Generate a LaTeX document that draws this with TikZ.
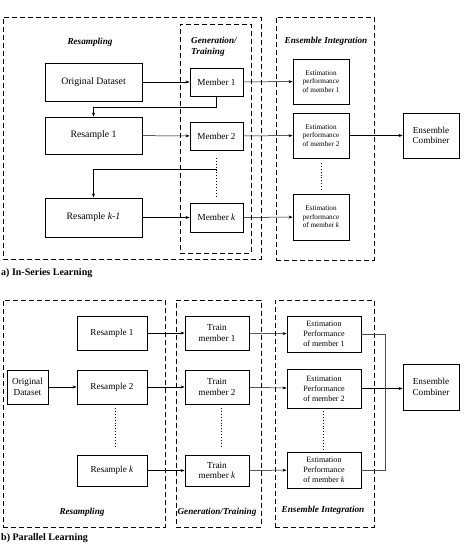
\documentclass[tikz,border=0pt]{standalone}
\usepackage{fontspec}
\setmainfont{Liberation Serif}
\usetikzlibrary{arrows.meta}
\begin{document}
\begin{tikzpicture}[x=1pt,y=-1pt,
  box/.style={draw, line width=0.9pt, inner sep=0pt, align=center},
  bigtxt/.style={font=\fontsize{9.8}{11}\selectfont},
  midtxt/.style={font=\fontsize{9.2}{10.5}\selectfont},
  smalltxt/.style={font=\fontsize{7.2}{8.5}\selectfont},
  esttxt/.style={font=\fontsize{8.1}{10}\selectfont},
  grp/.style={draw, dash pattern=on 5pt off 3pt, line width=0.6pt, inner sep=0pt},
  lbl/.style={font=\fontsize{9.2}{10.5}\selectfont\bfseries\itshape, inner sep=0pt},
  captxt/.style={font=\fontsize{10}{12}\selectfont\bfseries, inner sep=0pt, anchor=west},
  arr/.style={-{Stealth[length=4pt,width=3pt]}, line width=0.5pt},
  dots/.style={dotted, line width=0.9pt}
]
\useasboundingbox (0,0) rectangle (474,545);

% ---------------- (a) In-Series Learning ----------------
\node[grp, minimum width=258pt, minimum height=242pt] (gAres) at (132,138) {};
\node[grp, minimum width=71pt, minimum height=229pt] (gAgen) at (215.5,138.5) {};
\node[grp, minimum width=98pt, minimum height=243pt] (gAens) at (325,138.5) {};

\node[lbl] (lAres) at (90,42) {Resampling};
\node[lbl, align=left, anchor=west] (lAgen) at (191,47) {Generation/\\Training};
\node[lbl] (lAens) at (326,41) {Ensemble Integration};

\node[box, bigtxt, minimum width=97pt, minimum height=38pt] (od) at (93.5,82) {Original Dataset};
\node[box, midtxt, minimum width=53pt, minimum height=28pt] (m1) at (216.5,82) {Member 1};
\node[box, bigtxt, minimum width=97pt, minimum height=37pt] (r1) at (93.5,135.5) {Resample 1};
\node[box, midtxt, minimum width=53pt, minimum height=28pt] (m2) at (216.5,136) {Member 2};
\node[box, bigtxt, minimum width=97pt, minimum height=39pt] (rk) at (93.5,217.5) {Resample \textit{k-1}};
\node[box, midtxt, minimum width=53pt, minimum height=29pt] (mk) at (216.5,217.5) {Member \textit{k}};

\node[box, smalltxt, minimum width=56pt, minimum height=45pt] (e1) at (321,81.5) {Estimation\\performance\\of member 1};
\node[box, smalltxt, minimum width=56pt, minimum height=45pt] (e2) at (321,135.5) {Estimation\\performance\\of member 2};
\node[box, smalltxt, minimum width=56pt, minimum height=46pt] (ek) at (321,217) {Estimation\\performance\\of member \textit{k}};
\node[box, midtxt, minimum width=56pt, minimum height=45pt] (ec) at (431,135.5) {Ensemble\\Combiner};

\coordinate (dAt) at (216.5,158);
\coordinate (dAb) at (216.5,198);
\coordinate (dAbr) at (216.5,169);
\coordinate (dEt) at (321,163);
\coordinate (dEb) at (321,191);
\draw[dots] (dAt) -- (dAb);
\draw[dots] (dEt) -- (dEb);

\draw[arr] (od) -- (m1);
\draw[arr] (r1) -- (m2);
\draw[arr] (rk) -- (mk);
\draw[arr] (m1) -- (e1);
\draw[arr] (m2) -- (e2);
\draw[arr] (mk) -- (ek);
\draw[arr] (e2) -- (ec);
\draw[arr] (m1.south) -- ++(0,11) -| (r1.north);
\draw[arr] (dAbr) -| (rk.north);

\node[captxt] (capA) at (1,273) {a) In-Series Learning};

% ---------------- (b) Parallel Learning ----------------
\node[grp, minimum width=162pt, minimum height=227pt] (gBres) at (84,413.5) {};
\node[grp, minimum width=85pt, minimum height=227pt] (gBgen) at (218.5,413.5) {};
\node[grp, minimum width=99pt, minimum height=227pt] (gBens) at (324.5,413.5) {};

\node[lbl] (lBres) at (82,512) {Resampling};
\node[lbl] (lBgen) at (217,512) {Generation/Training};
\node[lbl] (lBens) at (323,510) {Ensemble Integration};

\node[box, midtxt, minimum width=41pt, minimum height=34pt] (bod) at (27.5,387) {Original\\Dataset};
\node[box, midtxt, minimum width=70pt, minimum height=34pt] (br1) at (112,333) {Resample 1};
\node[box, midtxt, minimum width=70pt, minimum height=34pt] (br2) at (112,387) {Resample 2};
\node[box, midtxt, minimum width=70pt, minimum height=31pt] (brk) at (112,470.5) {Resample \textit{k}};
\node[box, midtxt, minimum width=64pt, minimum height=34pt] (bt1) at (217,333) {Train\\member 1};
\node[box, midtxt, minimum width=64pt, minimum height=34pt] (bt2) at (217,387) {Train\\member 2};
\node[box, midtxt, minimum width=64pt, minimum height=31pt] (btk) at (217,470.5) {Train\\member \textit{k}};
\node[box, esttxt, minimum width=74pt, minimum height=36pt] (be1) at (324,334) {Estimation\\Performance\\of member  1};
\node[box, esttxt, minimum width=74pt, minimum height=39pt] (be2) at (324,388.5) {Estimation\\Performance\\of member  2};
\node[box, esttxt, minimum width=74pt, minimum height=36pt] (bek) at (324,470) {Estimation\\Performance\\of member  \textit{k}};
\node[box, midtxt, minimum width=56pt, minimum height=46pt] (bec) at (431,387) {Ensemble\\Combiner};

\draw[dots] (115,408) -- (115,448);
\draw[dots] (221,408) -- (221,448);
\draw[dots] (323,411) -- (323,449);

\draw[arr] (bod) -- (br2);
\draw[arr] (br1) -- (bt1);
\draw[arr] (br2) -- (bt2);
\draw[arr] (brk) -- (btk);
\draw[arr] (bt1) -- (be1);
\draw[arr] (bt2) -- (be2);
\draw[arr] (btk) -- (bek);
\draw[arr] (be2.east) -- (bec.west |- be2.east);
\coordinate (col) at (385,334);
\draw[line width=0.5pt, black!70] (be1.east) -- (col) |- (bek.east);

\node[captxt] (capB) at (1,538.5) {b) Parallel Learning};
\end{tikzpicture}
\end{document}
